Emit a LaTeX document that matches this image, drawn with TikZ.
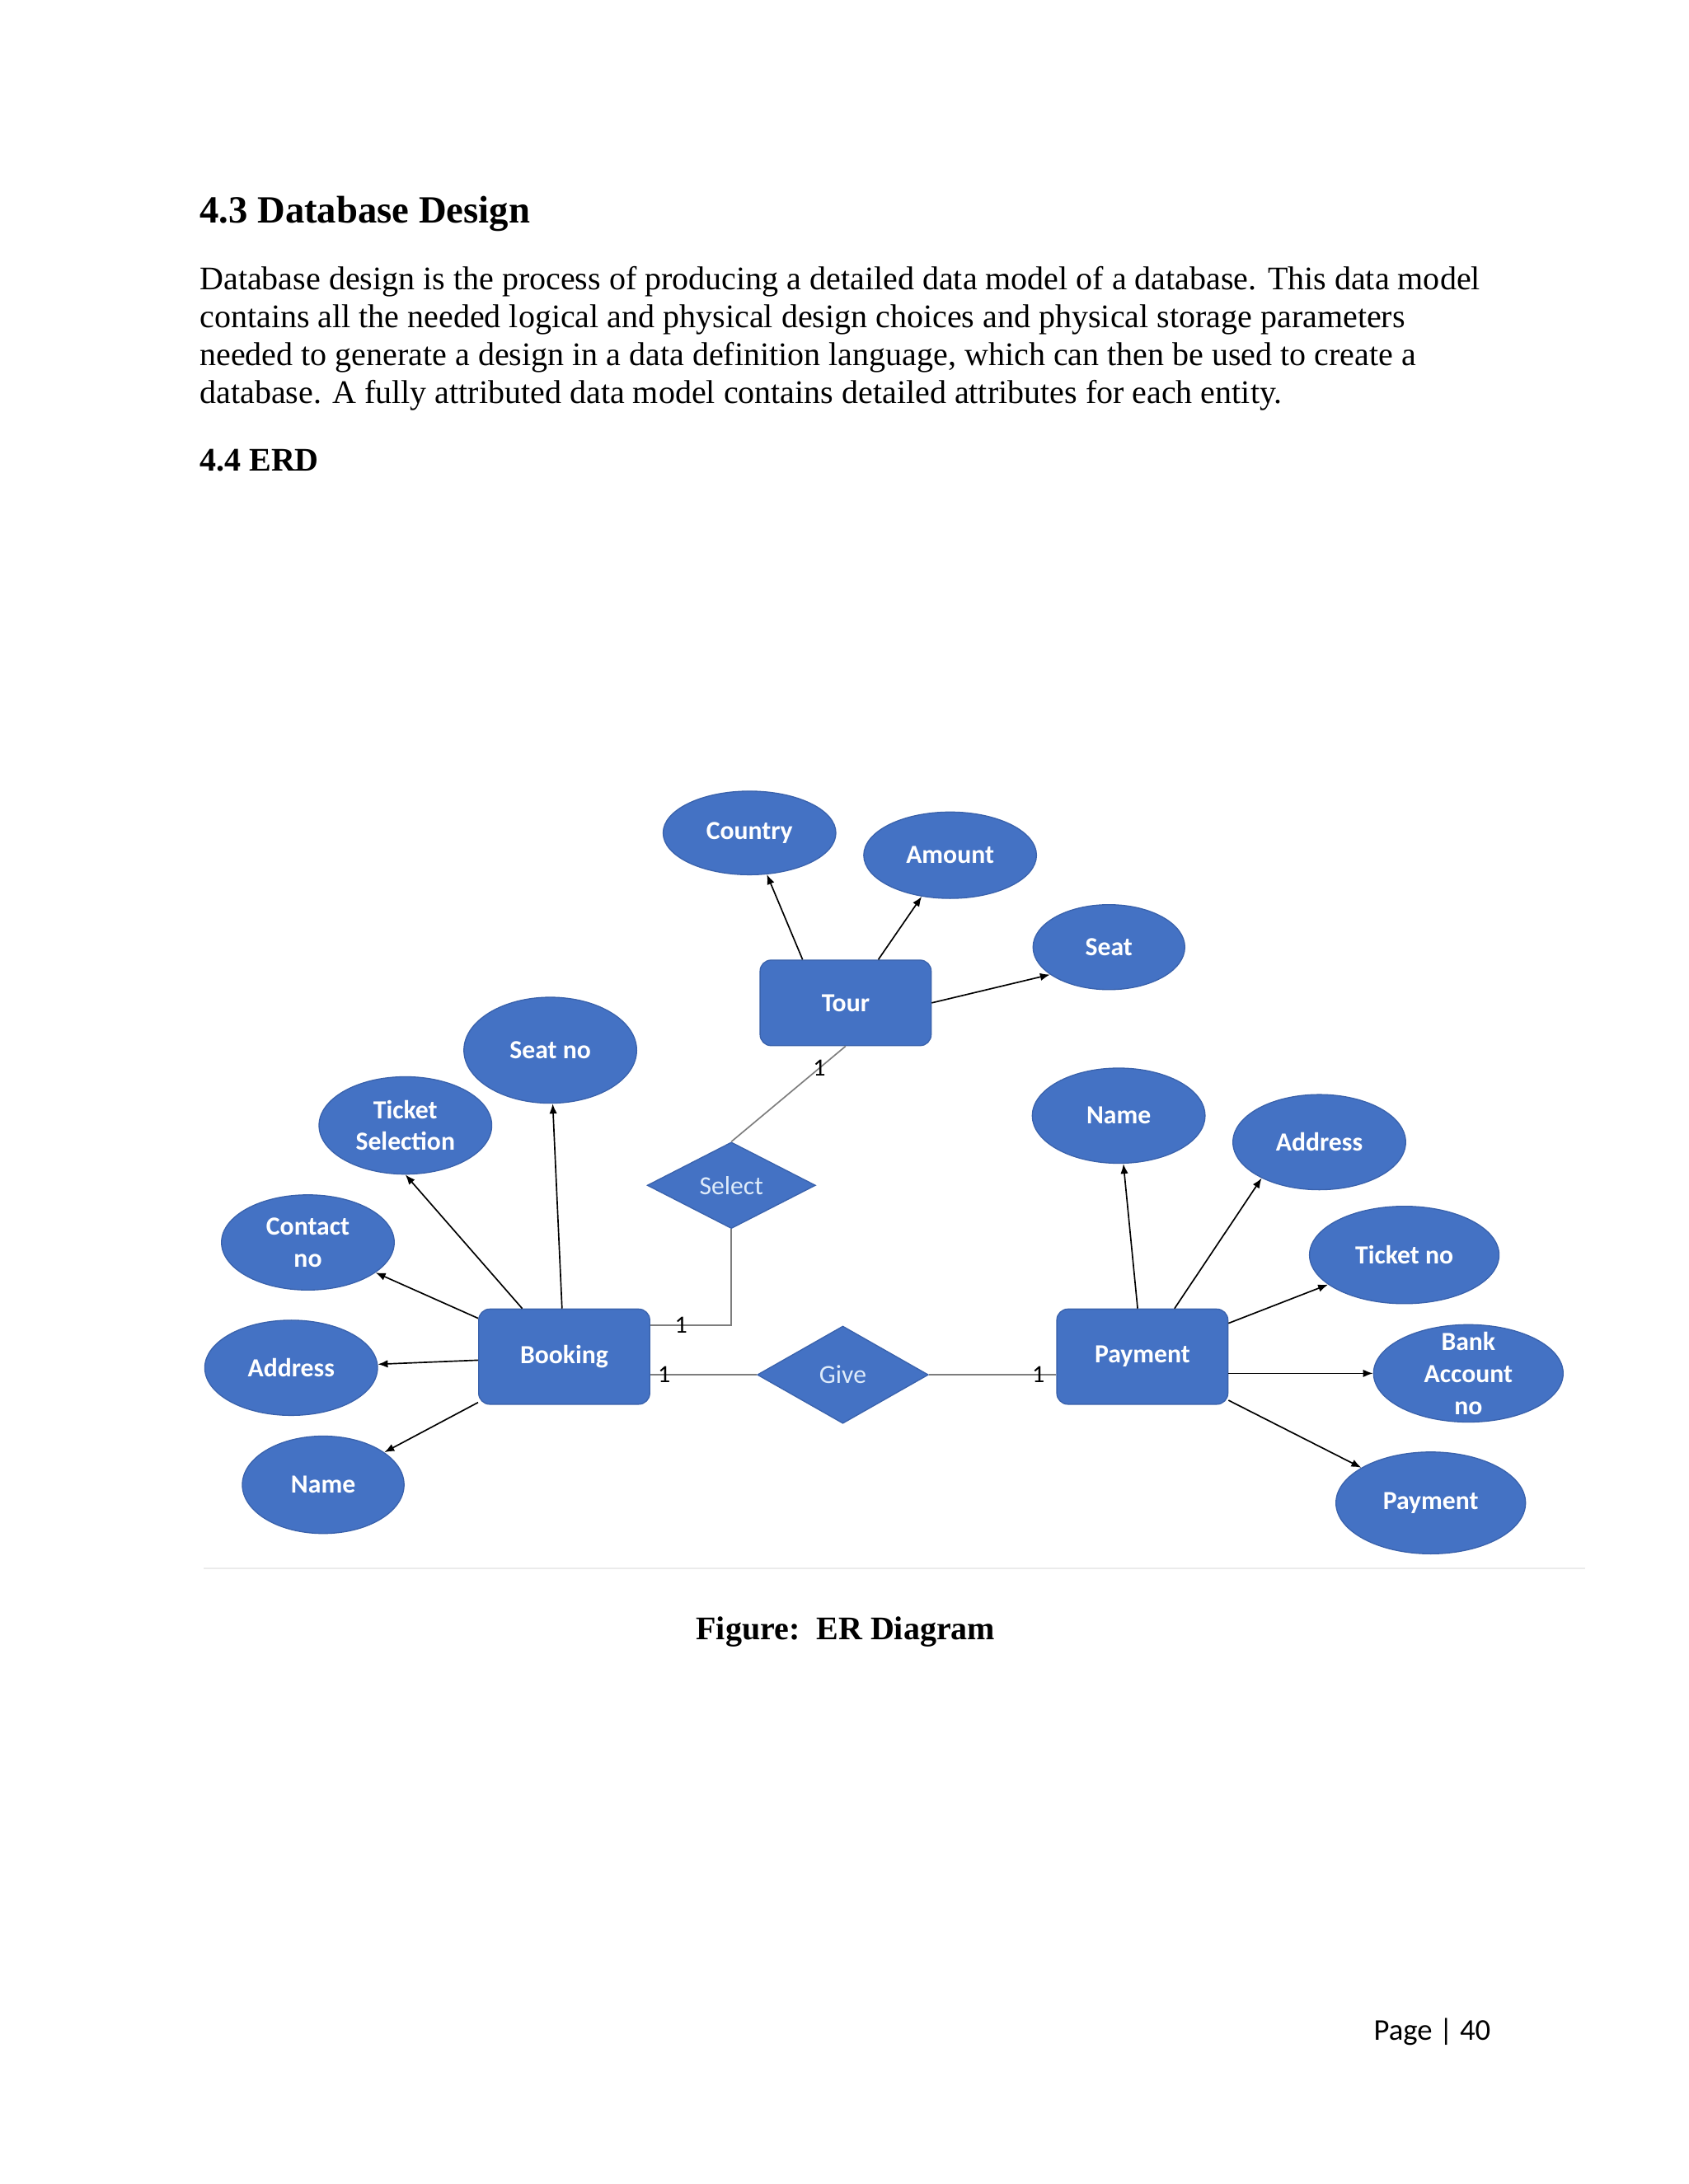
\documentclass[tikz,border=0pt]{standalone}
\usepackage{fontspec}
\setmainfont{Liberation Serif}
\newfontfamily\calib{Carlito}
\usepackage{tikz}
\usetikzlibrary{positioning,arrows.meta,shapes.geometric,calc}
\definecolor{erblue}{RGB}{68,114,196}
\definecolor{erline}{RGB}{58,98,172}
\definecolor{reltext}{RGB}{222,235,250}
\definecolor{relgray}{RGB}{125,125,125}
\tikzset{
    ent/.style={rectangle,draw=erline,fill=erblue,rounded corners=4bp,minimum width=62bp,minimum height=34.5bp,inner sep=1pt,text=white,font=\calib\bfseries\fontsize{9.5}{11.6}\selectfont},
    att/.style={ellipse,draw=erline,fill=erblue,minimum width=62.6bp,minimum height=34.5bp,inner sep=0pt,align=center,text=white,font=\calib\bfseries\fontsize{9.5}{11.6}\selectfont},
    wideatt/.style={att,minimum width=68.7bp,minimum height=35.3bp},
    attlbl/.style={align=center,inner sep=0pt,text=white,font=\calib\bfseries\fontsize{9.5}{11.6}\selectfont},
    rel/.style={diamond,draw=erline,fill=erblue,aspect=2,inner sep=0pt,minimum width=62bp,minimum height=33bp,text=reltext,font=\calib\fontsize{9.5}{11.6}\selectfont},
    edge/.style={-{Latex[length=3.6bp,width=2.8bp]},line width=0.5pt},
    link/.style={draw=relgray,line width=0.5pt},
    card/.style={font=\calib\fontsize{9}{10}\selectfont,inner sep=0pt},
}

\begin{document}
\begin{tikzpicture}[x=0.50495bp,y=-0.50495bp]
\useasboundingbox (0,0) rectangle (1212,1568);
\node[anchor=base west,inner sep=0pt,font=\bfseries\fontsize{14}{16}\selectfont] (head) at (143,160) {4.3 Database Design};
\node[anchor=north west,align=left,inner sep=0pt,font=\fontsize{12}{13.8}\selectfont] (para) at (143,191) {Database design is the process of producing a detailed data model of a database. This data model\\
contains all the needed logical and physical design choices and physical storage parameters\\
needed to generate a design in a data definition language, which can then be used to create a\\
database. A fully attributed data model contains detailed attributes for each entity.};
\node[anchor=base west,inner sep=0pt,font=\bfseries\fontsize{12}{14}\selectfont] (erd) at (143,338) {4.4 ERD};

\node[ent,minimum height=31bp] (tour) at (607,720) {Tour};
\node[ent] (bkg) at (405,974) {Booking};
\node[ent] (pay) at (820,974) {Payment};
\node[rel,minimum width=61bp,minimum height=31.3bp] (sel) at (525,851) {Select};
\node[rel,minimum height=35.3bp] (give) at (605,987) {Give};

\node[att,minimum height=30.3bp] (cntry) at (538,598) {Country};
\node[att,minimum height=31.3bp] (amt) at (682,614) {Amount};
\node[att,minimum width=55bp,minimum height=30.8bp] (seat) at (796,680) {Seat};
\node[att,minimum height=38.4bp] (seatno) at (395,754) {Seat no};
\node[att,minimum height=35.3bp] (tksel) at (291,808) {Ticket\\Selection};
\node[att] (contact) at (221,892) {Contact\\no};
\node[att] (addrL) at (209,982) {Address};
\node[att,minimum width=58.6bp,minimum height=35.3bp] (nameL) at (232,1066) {Name};
\node[att] (nameR) at (803,801) {Name};
\node[att] (addrR) at (947,820) {Address};
\node[wideatt] (tkno) at (1008,901) {Ticket no};
\node[wideatt,label={[attlbl]center:{Bank\\Account\\no}}] (bank) at (1054,986) {};
\node[wideatt,minimum height=36.9bp] (payatt) at (1027,1079) {Payment};

\draw[edge] ($(tour.north)!0.5!(tour.north west)$) -- (cntry);
\draw[edge] ($(tour.north)!0.38!(tour.north east)$) -- (amt);
\draw[edge] (tour.east) -- (seat.205);
\draw[edge] (bkg) -- (seatno);
\draw[edge] (bkg) -- (tksel.south);
\draw[edge] (bkg) -- (contact);
\draw[edge] (bkg) -- (addrL);
\draw[edge] (bkg) -- (nameL);
\draw[edge] (pay) -- (nameR);
\draw[edge] (pay) -- (addrR.212);
\draw[edge] (pay) -- (tkno);
\draw[edge] (pay.east |- bank) -- (bank);
\draw[edge] (pay) -- (payatt);

\draw[link] (sel.north) -- node[card,pos=0.77]{1} (tour.south);
\draw[link] (bkg.20) -| node[card,pos=0.19]{1} (sel.south);
\draw[link] (bkg.east |- give) -- node[card,pos=0.13]{1} (give);
\draw[link] (give) -- node[card,pos=0.86]{1} (pay.west |- give);

\draw[black!8,line width=0.8pt] (146,1126) -- (1138,1126);
\node[anchor=base,inner sep=0pt,font=\bfseries\fontsize{12}{14}\selectfont] (cap) at (607,1177) {Figure:\ \ ER Diagram};
\node[anchor=base,inner sep=0pt,font=\calib\fontsize{11}{13}\selectfont] (pg) at (1028,1465) {Page | 40};
\end{tikzpicture}
\end{document}
